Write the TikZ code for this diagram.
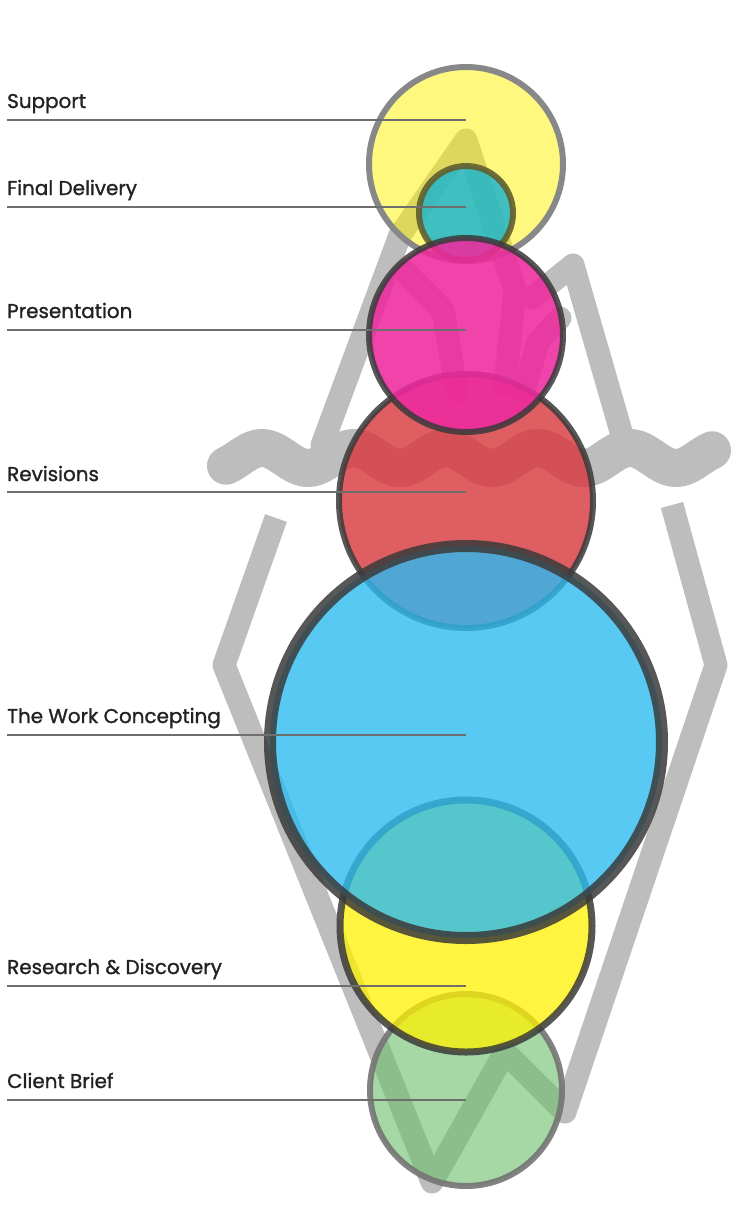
\documentclass[tikz,border=0pt]{standalone}
\usepackage{fontspec}
\setmainfont{Poppins}[FakeBold=1.3]
\begin{document}
\begin{tikzpicture}[x=1bp,y=-1bp,
  fig/.style={draw=figgray,line width=23bp,line join=round,line cap=round},
  disc/.style={circle,inner sep=0pt,minimum size=#1},
  lab/.style={anchor=base west,inner sep=0pt,text=labtext,font=\fontsize{20}{22}\selectfont},
  leader/.style={draw=leadgray,line width=1.4bp}]
\definecolor{figgray}{HTML}{BDBDBD}
\definecolor{labtext}{HTML}{222222}
\definecolor{leadgray}{HTML}{6E6E6E}
\definecolor{cyel}{HTML}{FFF200}
\definecolor{ccyan}{HTML}{1FB5CC}
\definecolor{cmag}{HTML}{EE2A9E}
\definecolor{cred}{HTML}{D83A40}
\definecolor{cblue}{HTML}{2DBBF0}
\definecolor{cgreen}{HTML}{6EC06E}
\definecolor{bdark}{HTML}{3A3A3A}
\definecolor{bgray}{HTML}{888888}
\useasboundingbox (0,0) rectangle (753,1224);
% background figure
\draw[fig] (400,235) -- (466,140) -- (515,290) -- (505,385);
\draw[fig] (400,235) -- (322,445);
\draw[fig] (405,272) -- (443,310) -- (457,392);
\draw[fig] (532,298) -- (573,265) -- (622,435);
\draw[fig] (560,318) -- (538,342) -- (524,392);
\draw[draw=figgray,line width=38bp,line cap=round,smooth] plot[domain=226:712,samples=80] (\x,{458-10*cos(3.913*(\x-262))});
\draw[fig,line cap=butt] (276,518) -- (224,665) -- (432,1182) -- (505,1052) -- (565,1112) -- (716,665) -- (672,505);
% circles
\node[disc=194bp,draw=bgray,line width=6bp,fill=cyel,fill opacity=0.5] (sup) at (466,164) {};
\node[disc=94bp,draw=bdark!80!cyel,line width=6bp,fill=ccyan,fill opacity=0.85,draw opacity=0.9] (fin) at (466,213) {};
\node[disc=254bp,draw=bdark,line width=6bp,fill=cred,fill opacity=0.82,draw opacity=0.85] (rev) at (466,501) {};
\node[disc=194bp,draw=bdark,line width=6bp,fill=cmag,fill opacity=0.88,draw opacity=0.85] (pre) at (466,335) {};
\node[disc=192bp,draw=bgray!85!black,line width=6bp,fill=cgreen,fill opacity=0.62,draw opacity=0.9] (cli) at (466,1090) {};
\node[disc=252bp,draw=bdark,line width=7bp,fill=cyel,fill opacity=0.75,draw opacity=0.85] (res) at (466,926) {};
\node[disc=392bp,draw=bdark,line width=12bp,fill=cblue,fill opacity=0.8,draw opacity=0.85] (work) at (466,742) {};
% leaders
\coordinate (lsup) at (7,120);
\coordinate (lfin) at (7,207);
\coordinate (lpre) at (7,330);
\coordinate (lrev) at (7,492);
\coordinate (lwork) at (7,735);
\coordinate (lres) at (7,986);
\coordinate (lcli) at (7,1100);
\draw[leader] (lsup) -- (lsup -| sup.center);
\draw[leader] (lfin) -- (lfin -| fin.center);
\draw[leader] (lpre) -- (lpre -| pre.center);
\draw[leader] (lrev) -- (lrev -| rev.center);
\draw[leader] (lwork) -- (lwork -| work.center);
\draw[leader] (lres) -- (lres -| res.center);
\draw[leader] (lcli) -- (lcli -| cli.center);
% labels
\node[lab] (tsup) at (7,108) {Support};
\node[lab] (tfin) at (7,195) {Final Delivery};
\node[lab] (tpre) at (7,318) {Presentation};
\node[lab] (trev) at (7,481) {Revisions};
\node[lab] (twork) at (7,723) {The Work Concepting};
\node[lab] (tres) at (7,974) {Research \& Discovery};
\node[lab] (tcli) at (7,1088) {Client Brief};
\end{tikzpicture}
\end{document}
